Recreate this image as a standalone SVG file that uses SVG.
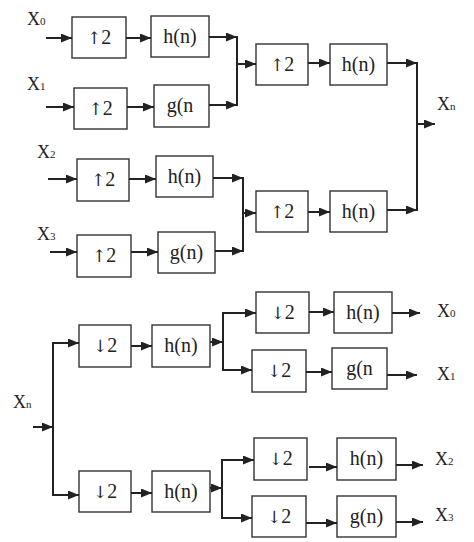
<svg xmlns="http://www.w3.org/2000/svg" width="474" height="542" viewBox="0 0 474 542">
<style>
.box{fill:#fff;stroke:#333;stroke-width:1.4}
.t{font-family:"Liberation Serif","Times New Roman",serif;font-size:20px;fill:#222;text-anchor:middle}
.ar{font-family:"DejaVu Serif","DejaVu Sans",serif;font-size:17px;font-variant-emoji:text}
.lbl{font-family:"Liberation Serif","Times New Roman",serif;font-size:18px;fill:#222}
.sub{font-size:11px}
.c line{stroke:#222;stroke-width:2}
.c .a{marker-end:url(#ah)}
</style>
<defs>
<marker id="ah" markerUnits="userSpaceOnUse" markerWidth="11" markerHeight="9" refX="11" refY="4.5" orient="auto">
<path d="M0,0 L11,4.5 L0,9 z" fill="#222"/>
</marker>
</defs>
<rect width="474" height="542" fill="#fff"/>

<g id="n-b1"><rect class="box" x="72" y="17" width="54" height="41"/><text class="t" x="99" y="44"><tspan class="ar">↑</tspan>2</text></g>
<g id="n-b2"><rect class="box" x="151" y="16" width="58" height="41"/><text class="t" x="180" y="43">h(n)</text></g>
<g id="n-b3"><rect class="box" x="74" y="88" width="53" height="41"/><text class="t" x="100.5" y="115"><tspan class="ar">↑</tspan>2</text></g>
<g id="n-b4"><rect class="box" x="154" y="85" width="55" height="42"/><text class="t" x="180" y="112">g(n</text></g>
<g id="n-b5"><rect class="box" x="256" y="44" width="52" height="41"/><text class="t" x="282" y="71"><tspan class="ar">↑</tspan>2</text></g>
<g id="n-b6"><rect class="box" x="330" y="44" width="57" height="41"/><text class="t" x="358.5" y="71">h(n)</text></g>
<g id="n-b7"><rect class="box" x="77" y="159" width="52" height="42"/><text class="t" x="103" y="186"><tspan class="ar">↑</tspan>2</text></g>
<g id="n-b8"><rect class="box" x="156" y="156" width="57" height="41"/><text class="t" x="184.5" y="183">h(n)</text></g>
<g id="n-b9"><rect class="box" x="77" y="235" width="54" height="42"/><text class="t" x="104" y="262"><tspan class="ar">↑</tspan>2</text></g>
<g id="n-b10"><rect class="box" x="158" y="232" width="57" height="41"/><text class="t" x="186.5" y="259">g(n)</text></g>
<g id="n-b11"><rect class="box" x="256" y="191" width="52" height="41"/><text class="t" x="282" y="218"><tspan class="ar">↑</tspan>2</text></g>
<g id="n-b12"><rect class="box" x="330" y="191" width="57" height="41"/><text class="t" x="358.5" y="218">h(n)</text></g>

<g id="n-c1"><rect class="box" x="79" y="325" width="52" height="42"/><text class="t" x="105" y="352"><tspan class="ar">↓</tspan>2</text></g>
<g id="n-c2"><rect class="box" x="152" y="325" width="58" height="42"/><text class="t" x="181" y="352">h(n)</text></g>
<g id="n-c3"><rect class="box" x="79" y="471" width="52" height="41"/><text class="t" x="105" y="498"><tspan class="ar">↓</tspan>2</text></g>
<g id="n-c4"><rect class="box" x="152" y="471" width="58" height="41"/><text class="t" x="181" y="498">h(n)</text></g>
<g id="n-c5"><rect class="box" x="256" y="292" width="53" height="41"/><text class="t" x="282.5" y="319"><tspan class="ar">↓</tspan>2</text></g>
<g id="n-c6"><rect class="box" x="334" y="292" width="58" height="41"/><text class="t" x="363" y="319">h(n)</text></g>
<g id="n-c7"><rect class="box" x="252" y="350" width="54" height="42"/><text class="t" x="279" y="377"><tspan class="ar">↓</tspan>2</text></g>
<g id="n-c8"><rect class="box" x="332" y="348" width="55" height="41"/><text class="t" x="359.5" y="375">g(n</text></g>
<g id="n-c9"><rect class="box" x="254" y="438" width="53" height="42"/><text class="t" x="280.5" y="465"><tspan class="ar">↓</tspan>2</text></g>
<g id="n-c10"><rect class="box" x="337" y="438" width="59" height="42"/><text class="t" x="366.5" y="465">h(n)</text></g>
<g id="n-c11"><rect class="box" x="252" y="496" width="54" height="41"/><text class="t" x="279" y="523"><tspan class="ar">↓</tspan>2</text></g>
<g id="n-c12"><rect class="box" x="337" y="496" width="59" height="41"/><text class="t" x="366.5" y="523">g(n)</text></g>

<g id="labels">
<text class="lbl" x="27" y="25">X<tspan class="sub">0</tspan></text>
<text class="lbl" x="27" y="90">X<tspan class="sub">1</tspan></text>
<text class="lbl" x="37" y="158">X<tspan class="sub">2</tspan></text>
<text class="lbl" x="37" y="240">X<tspan class="sub">3</tspan></text>
<text class="lbl" x="437" y="110">X<tspan class="sub">n</tspan></text>
<text class="lbl" x="13" y="408">X<tspan class="sub">n</tspan></text>
<text class="lbl" x="437" y="317">X<tspan class="sub">0</tspan></text>
<text class="lbl" x="437" y="380">X<tspan class="sub">1</tspan></text>
<text class="lbl" x="435" y="465">X<tspan class="sub">2</tspan></text>
<text class="lbl" x="435" y="521">X<tspan class="sub">3</tspan></text>
</g>

<g id="connectors" class="c">
<line class="a" x1="46" y1="38" x2="72" y2="38"/>
<line class="a" x1="126" y1="38" x2="151" y2="38"/>
<line class="a" x1="209" y1="37" x2="237" y2="37"/>
<line class="a" x1="46" y1="107" x2="74" y2="107"/>
<line class="a" x1="127" y1="107" x2="154" y2="107"/>
<line class="a" x1="209" y1="105" x2="237" y2="105"/>
<line x1="237" y1="36" x2="237" y2="106"/>
<line class="a" x1="237" y1="64" x2="256" y2="64"/>
<line class="a" x1="308" y1="63" x2="330" y2="63"/>
<line class="a" x1="387" y1="63" x2="417" y2="63"/>
<line class="a" x1="48" y1="179" x2="77" y2="179"/>
<line class="a" x1="129" y1="179" x2="156" y2="179"/>
<line class="a" x1="213" y1="178" x2="243" y2="178"/>
<line class="a" x1="50" y1="252" x2="77" y2="252"/>
<line class="a" x1="131" y1="252" x2="158" y2="252"/>
<line class="a" x1="215" y1="251" x2="243" y2="251"/>
<line x1="243" y1="177" x2="243" y2="252"/>
<line class="a" x1="243" y1="213" x2="256" y2="213"/>
<line class="a" x1="308" y1="212" x2="330" y2="212"/>
<line class="a" x1="387" y1="210" x2="417" y2="210"/>
<line x1="417" y1="62" x2="417" y2="211"/>
<line class="a" x1="417" y1="124" x2="435" y2="124"/>

<line class="a" x1="33" y1="427" x2="53" y2="427"/>
<line x1="53" y1="343" x2="53" y2="495"/>
<line class="a" x1="52" y1="343" x2="79" y2="343"/>
<line class="a" x1="131" y1="346" x2="152" y2="346"/>
<line class="a" x1="210" y1="342" x2="223" y2="342"/>
<line x1="223" y1="313" x2="223" y2="371"/>
<line class="a" x1="222" y1="313" x2="256" y2="313"/>
<line class="a" x1="222" y1="370" x2="252" y2="370"/>
<line class="a" x1="309" y1="312" x2="334" y2="312"/>
<line class="a" x1="392" y1="313" x2="420" y2="313"/>
<line class="a" x1="306" y1="372" x2="332" y2="372"/>
<line class="a" x1="387" y1="375" x2="417" y2="375"/>
<line class="a" x1="52" y1="495" x2="79" y2="495"/>
<line class="a" x1="131" y1="493" x2="152" y2="493"/>
<line class="a" x1="210" y1="488" x2="222" y2="488"/>
<line x1="222" y1="460" x2="222" y2="519"/>
<line class="a" x1="221" y1="460" x2="254" y2="460"/>
<line class="a" x1="221" y1="518" x2="252" y2="518"/>
<line class="a" x1="309" y1="467" x2="337" y2="467"/>
<line class="a" x1="396" y1="465" x2="423" y2="465"/>
<line class="a" x1="306" y1="523" x2="337" y2="523"/>
<line class="a" x1="396" y1="522" x2="423" y2="522"/>
</g>
</svg>
